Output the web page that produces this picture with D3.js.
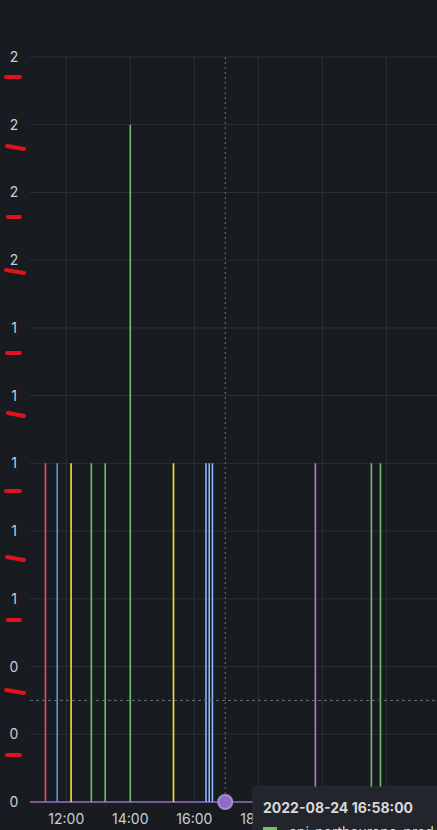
<!DOCTYPE html>
<html><head><meta charset="utf-8">
<script src="https://cdn.jsdelivr.net/npm/d3@7"></script>
<style>
body{margin:0;background:#181b1f;font-family:Inter,"Noto Sans",sans-serif;}
</style></head><body>
<svg id="c" width="437" height="830"></svg>
<script>
const day = '2022-08-24';
const spikeTimes = ['11:21','11:43','12:09','12:47','13:13','14:00','15:21','16:22','16:28','16:34','19:47','21:32','21:49'];
const spikeValues = [1,1,1,1,1,2,1,1,1,1,1,1,1];
const spikeColors = ['#f2495c','#5794f2','#fade2a','#73bf69','#73bf69','#73bf69','#fade2a','#8ab8ff','#8ab8ff','#8ab8ff','#b877d9','#73bf69','#73bf69'];
const yTicks = [0,0.2,0.4,0.6,0.8,1,1.2,1.4,1.6,1.8,2,2.2];
const xTicks = ['12:00','14:00','16:00','18:00','20:00','22:00'];
const hoverTime = '16:58';
const hoverValue = 0.3;
const scribbleY = [77,146,217,270,353,413,491,557,620,690,755];

const parse = t => d3.timeParse('%Y-%m-%d %H:%M')(day + ' ' + t);
const svg = d3.select('#c');
const W = 437, plotLeft = 30, plotTop = 57, plotBottom = 802;

const x = d3.scaleTime()
  .domain([parse('10:52'), parse('23:35')])
  .range([plotLeft, W]);
const y = d3.scaleLinear().domain([0, 2.2]).range([plotBottom, plotTop]);

// grid
svg.append('g').selectAll('line').data(yTicks).join('line')
  .attr('x1', plotLeft).attr('x2', W)
  .attr('y1', d => y(d)).attr('y2', d => y(d))
  .attr('stroke', '#2c3036');
svg.append('g').selectAll('line').data(xTicks).join('line')
  .attr('x1', d => x(parse(d))).attr('x2', d => x(parse(d)))
  .attr('y1', plotTop).attr('y2', plotBottom)
  .attr('stroke', '#2c3036');

// axis labels
svg.append('g').selectAll('text').data(yTicks).join('text')
  .attr('x', 14).attr('y', d => y(d) + 5)
  .attr('text-anchor', 'middle').attr('fill', '#c7d0d9').attr('font-size', 14)
  .text(d => Math.round(d));
svg.append('g').selectAll('text').data(xTicks).join('text')
  .attr('x', d => x(parse(d))).attr('y', 824)
  .attr('text-anchor', 'middle').attr('fill', '#c7d0d9').attr('font-size', 14)
  .text(d => d);

// baseline
svg.append('line').attr('x1', plotLeft).attr('x2', W)
  .attr('y1', y(0)).attr('y2', y(0)).attr('stroke', '#8f6cc4').attr('stroke-width', 1.5);

// spikes
svg.append('g').selectAll('line').data(spikeTimes).join('line')
  .attr('x1', d => x(parse(d))).attr('x2', d => x(parse(d)))
  .attr('y1', y(0)).attr('y2', (d, i) => y(spikeValues[i]))
  .attr('stroke', (d, i) => spikeColors[i]).attr('stroke-width', 1.6);

// crosshair
const hx = x(parse(hoverTime));
svg.append('line').attr('x1', hx).attr('x2', hx).attr('y1', plotTop).attr('y2', plotBottom)
  .attr('stroke', '#5f7480').attr('stroke-dasharray', '2,3');
svg.append('line').attr('x1', plotLeft).attr('x2', W).attr('y1', y(hoverValue)).attr('y2', y(hoverValue))
  .attr('stroke', '#5f7480').attr('stroke-dasharray', '3,3');
svg.append('circle').attr('cx', hx).attr('cy', y(0)).attr('r', 7)
  .attr('fill', '#8f6cc4').attr('stroke', '#a98ad8').attr('stroke-width', 2);

// red scribbles
svg.append('g').selectAll('line').data(scribbleY).join('line')
  .attr('x1', (d, i) => 6 + (i % 3)).attr('x2', (d, i) => 20 + (i % 2) * 4)
  .attr('y1', d => d).attr('y2', (d, i) => d + (i % 2 ? 3 : 0))
  .attr('stroke', '#e0141c').attr('stroke-width', 4).attr('stroke-linecap', 'round');

// tooltip
const tip = svg.append('g').attr('transform', 'translate(253,787)');
tip.append('rect').attr('width', 190).attr('height', 60).attr('rx', 3)
  .attr('fill', '#22252b').attr('stroke', '#2f333a');
tip.append('text').attr('x', 10).attr('y', 26).attr('fill', '#d8d9da')
  .attr('font-size', 14).attr('font-weight', 'bold').text(day + ' 16:58:00');
tip.append('rect').attr('x', 10).attr('y', 40).attr('width', 14).attr('height', 4).attr('fill', '#73bf69');
tip.append('text').attr('x', 36).attr('y', 50).attr('fill', '#d8d9da')
  .attr('font-size', 14).text('api-northeurope-prod');
</script></body></html>
